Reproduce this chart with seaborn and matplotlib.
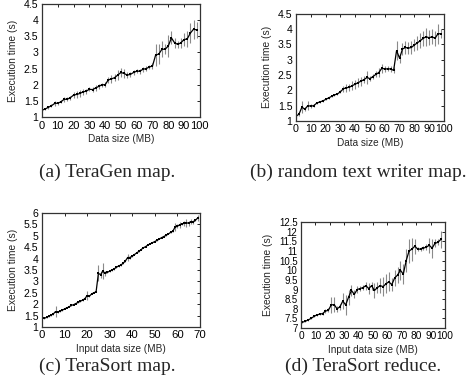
import numpy as np
import pandas as pd
import matplotlib
matplotlib.use("Agg")
import matplotlib.pyplot as plt
import seaborn as sns

# (a) TeraGen map
a_x = list(range(0, 100, 2))
a_y = [1.21, 1.25, 1.30, 1.35, 1.42, 1.43, 1.47, 1.55, 1.55, 1.60,
       1.68, 1.70, 1.73, 1.78, 1.80, 1.86, 1.85, 1.90, 1.95, 2.00,
       2.00, 2.15, 2.18, 2.22, 2.30, 2.38, 2.35, 2.30, 2.32, 2.38,
       2.42, 2.42, 2.48, 2.50, 2.55, 2.58, 2.92, 2.95, 3.10, 3.10,
       3.20, 3.45, 3.30, 3.25, 3.30, 3.40, 3.42, 3.60, 3.72, 3.70]
a_err = [0.03, 0.04, 0.04, 0.05, 0.08, 0.05, 0.05, 0.08, 0.06, 0.06,
         0.10, 0.10, 0.12, 0.10, 0.08, 0.06, 0.08, 0.08, 0.08, 0.06,
         0.08, 0.10, 0.12, 0.10, 0.15, 0.15, 0.15, 0.08, 0.08, 0.08,
         0.06, 0.08, 0.08, 0.08, 0.06, 0.08, 0.35, 0.30, 0.25, 0.15,
         0.35, 0.20, 0.15, 0.10, 0.15, 0.20, 0.25, 0.30, 0.30, 0.25]

# (b) random text writer map
b_x = list(range(0, 100, 2))
b_y = [1.15, 1.22, 1.45, 1.38, 1.50, 1.48, 1.50, 1.58, 1.62, 1.65,
       1.70, 1.75, 1.80, 1.85, 1.88, 1.95, 2.05, 2.08, 2.10, 2.15,
       2.20, 2.25, 2.30, 2.35, 2.42, 2.38, 2.45, 2.52, 2.58, 2.72,
       2.70, 2.70, 2.70, 2.65, 3.30, 3.05, 3.35, 3.40, 3.38, 3.40,
       3.48, 3.55, 3.62, 3.70, 3.75, 3.72, 3.75, 3.70, 3.85, 3.85]
b_err = [0.04, 0.06, 0.20, 0.06, 0.15, 0.06, 0.05, 0.04, 0.03, 0.03,
         0.03, 0.03, 0.03, 0.03, 0.03, 0.05, 0.10, 0.12, 0.12, 0.15,
         0.15, 0.15, 0.15, 0.12, 0.22, 0.08, 0.08, 0.10, 0.15, 0.15,
         0.10, 0.08, 0.10, 0.10, 0.30, 0.15, 0.20, 0.22, 0.20, 0.20,
         0.20, 0.22, 0.25, 0.25, 0.30, 0.25, 0.25, 0.25, 0.32, 0.15]

# (c) TeraSort map
c_x = list(range(1, 70))
c_y = [1.38, 1.42, 1.47, 1.52, 1.57, 1.68, 1.65, 1.70, 1.74, 1.79,
       1.84, 1.88, 1.95, 1.98, 2.03, 2.08, 2.13, 2.18, 2.24, 2.38,
       2.35, 2.45, 2.50, 2.55, 3.35, 3.30, 3.45, 3.35, 3.40, 3.45,
       3.50, 3.55, 3.62, 3.68, 3.72, 3.80, 3.90, 4.05, 4.05, 4.10,
       4.18, 4.25, 4.32, 4.40, 4.48, 4.53, 4.60, 4.65, 4.70, 4.75,
       4.80, 4.86, 4.92, 4.97, 5.02, 5.08, 5.15, 5.20, 5.38, 5.42,
       5.48, 5.52, 5.55, 5.58, 5.55, 5.62, 5.60, 5.68, 5.78]
c_err = [0.02, 0.02, 0.02, 0.02, 0.03, 0.25, 0.05, 0.03, 0.02, 0.02,
         0.02, 0.02, 0.03, 0.02, 0.02, 0.02, 0.02, 0.02, 0.03, 0.20,
         0.03, 0.02, 0.02, 0.03, 0.35, 0.15, 0.35, 0.10, 0.05, 0.03,
         0.03, 0.03, 0.05, 0.03, 0.03, 0.03, 0.05, 0.15, 0.05, 0.03,
         0.02, 0.02, 0.02, 0.02, 0.02, 0.02, 0.02, 0.02, 0.02, 0.02,
         0.02, 0.02, 0.02, 0.02, 0.02, 0.02, 0.03, 0.05, 0.18, 0.08,
         0.12, 0.05, 0.10, 0.18, 0.12, 0.10, 0.08, 0.05, 0.12]

# (d) TeraSort reduce
d_x = list(range(1, 99, 2))
d_y = [7.30, 7.35, 7.42, 7.50, 7.60, 7.68, 7.72, 7.75, 7.88, 7.92,
       8.20, 8.22, 8.00, 8.10, 8.40, 8.20, 8.60, 8.95, 8.75, 9.00,
       9.05, 9.10, 9.20, 9.05, 9.20, 8.95, 9.10, 9.20, 9.15, 9.30,
       9.40, 9.25, 9.60, 9.75, 10.00, 9.80, 10.50, 11.00, 11.10, 11.25,
       11.10, 11.10, 11.15, 11.20, 11.30, 11.15, 11.40, 11.45, 11.60]
d_err = [0.04, 0.04, 0.05, 0.05, 0.05, 0.05, 0.05, 0.05, 0.10, 0.10,
         0.40, 0.40, 0.15, 0.15, 0.40, 0.50, 0.40, 0.30, 0.20, 0.20,
         0.15, 0.15, 0.20, 0.30, 0.20, 0.40, 0.30, 0.40, 0.50, 0.50,
         0.50, 0.35, 0.40, 0.40, 0.50, 0.50, 0.60, 0.60, 0.60, 0.40,
         0.10, 0.10, 0.10, 0.15, 0.40, 0.50, 0.20, 0.15, 0.45]

sns.set_style("white")
plt.rcParams['font.family'] = ['Liberation Sans', 'DejaVu Sans']

fig = plt.figure(figsize=(4.74, 3.85), dpi=100)

# rect, x range, y range, x label, x / y tick label sizes
panels = [
    (a_x, a_y, a_err, [0.0886, 0.696, 0.333, 0.2935], (0, 100), (1, 4.5),
     "Data size (MB)", 8.0, 7.6),
    (b_x, b_y, b_err, [0.6245, 0.686, 0.312, 0.278], (0, 100), (1, 4.5),
     "Data size (MB)", 7.7, 7.6),
    (c_x, c_y, c_err, [0.0886, 0.1506, 0.333, 0.296], (0, 70), (1, 6),
     "Input data size (MB)", 8.2, 7.6),
    (d_x, d_y, d_err, [0.635, 0.148, 0.304, 0.275], (0, 100), (7, 12.5),
     "Input data size (MB)", 7.3, 6.9),
]

for x, y, err, rect, xlim, ylim, xlabel, xs, ys in panels:
    ax = fig.add_axes(rect)
    df = pd.DataFrame({"size": x, "time": y, "err": err})
    ax.errorbar(df["size"], df["time"], yerr=df["err"], fmt="none",
                ecolor="#8a8a8a", elinewidth=0.8, capsize=0, zorder=1)
    sns.lineplot(data=df, x="size", y="time", ax=ax, color="black",
                 linewidth=0.9, marker="s", markersize=2, markeredgewidth=0,
                 zorder=2)
    ax.set_xlim(*xlim)
    ax.set_ylim(*ylim)
    ax.set_xticks(np.arange(xlim[0], xlim[1] + 1, 10))
    yt = np.arange(ylim[0], ylim[1] + 0.01, 0.5)
    ax.set_yticks(yt)
    ax.set_yticklabels([f"{v:g}" for v in yt])
    ax.tick_params(direction="in", length=2.5, width=0.6,
                   top=True, right=True, pad=2.5, colors="black")
    ax.tick_params(axis="x", labelsize=xs)
    ax.tick_params(axis="y", labelsize=ys)
    for s in ax.spines.values():
        s.set_linewidth(0.9)
        s.set_color("#333333")
    ax.set_xlabel(xlabel, fontsize=7.2, labelpad=2.5)
    ax.set_ylabel("Execution time (s)", fontsize=7.4, labelpad=4)

cap = dict(family="Liberation Serif", fontsize=14, ha="center", va="center")
fig.text(107 / 474, 1 - 172 / 385, "(a) TeraGen map.", **cap)
fig.text(358 / 474, 1 - 172 / 385, "(b) random text writer map.", **cap)
fig.text(107 / 474, 1 - 366 / 385, "(c) TeraSort map.", **cap)
fig.text(363 / 474, 1 - 366 / 385, "(d) TeraSort reduce.", **cap)

fig.savefig("out.png", dpi=100)
